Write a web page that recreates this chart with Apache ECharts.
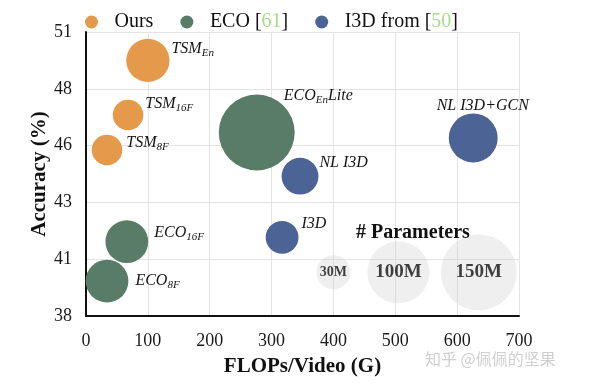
<!DOCTYPE html>
<html>
<head>
<meta charset="utf-8">
<script src="https://cdn.jsdelivr.net/npm/echarts@6/dist/echarts.min.js"></script>
<style>
html,body{margin:0;padding:0;background:#fff;}
#chart{width:600px;height:385px;}
</style>
</head>
<body>
<div id="chart"></div>
<script>
// ---- data (FLOPs G, accuracy %, params M) ----
var oursNames = [['TSM', '8F', ''], ['TSM', '16F', ''], ['TSM', 'En', '']];
var oursFlops = [34, 68, 100];
var oursAcc = [45.6, 47.2, 49.7];
var oursParams = [24.3, 24.3, 48.6];

var ecoNames = [['ECO', '8F', ''], ['ECO', '16F', ''], ['ECO', 'En', 'Lite']];
var ecoFlops = [34, 66, 276];
var ecoAcc = [39.6, 41.4, 46.4];
var ecoParams = [47.5, 47.5, 150];

var i3dNames = [['I3D', '', ''], ['NL I3D', '', ''], ['NL I3D+GCN', '', '']];
var i3dFlops = [317, 346, 626];
var i3dAcc = [41.6, 44.4, 46.15];
var i3dParams = [28, 35.3, 62.2];

var sizeLegendLabels = ['30M', '100M', '150M'];
var sizeLegendFlops = [400, 505, 635];
var sizeLegendAcc = [40, 40, 40];
var sizeLegendParams = [30, 100, 150];

var xTicks = [0, 100, 200, 300, 400, 500, 600, 700];
var yMin = 38, yMax = 51;

var legendNames = ['Ours', 'ECO', 'I3D'];
var legendRefs = ['', '61', '50'];
var legendPrefix = ['Ours', 'ECO [', 'I3D from ['];

// ---- styles ----
var SERIF = 'Liberation Serif';
var colors = { Ours: '#E5994A', ECO: '#587C68', I3D: '#4C6396' };
// label offsets (style only)
var labelOffsets = {
  Ours: [[4, -7], [2, -11], [2, -12]],
  ECO: [[7, 0], [6, -9], [-11, -37]],
  I3D: [[3, -14], [1, -13], [-61, -32]]
};

function sizeOf(p) { return 6.2 * Math.sqrt(p); }

function buildData(flops, acc, params, names) {
  return flops.map(function (f, i) {
    return { value: [f, acc[i], params[i]], nm: names[i] };
  });
}

var richLabel = {
  m: { fontFamily: SERIF, fontStyle: 'italic', fontSize: 16, color: '#151515', lineHeight: 20 },
  s: { fontFamily: SERIF, fontStyle: 'italic', fontSize: 11, color: '#151515', lineHeight: 12, verticalAlign: 'bottom' }
};

function makeSeries(name, flops, acc, params, names) {
  var data = buildData(flops, acc, params, names);
  data.forEach(function (d, i) {
    d.label = { offset: labelOffsets[name][i] };
  });
  return {
    name: name,
    type: 'scatter',
    data: data,
    symbolSize: function (v) { return sizeOf(v[2]); },
    itemStyle: { color: colors[name], opacity: 1 },
    emphasis: { disabled: true },
    label: {
      show: true,
      position: 'right',
      distance: 0,
      formatter: function (p) {
        var n = p.data.nm;
        var s = '{m|' + n[0] + '}';
        if (n[1]) s += '{s|' + n[1] + '}';
        if (n[2]) s += '{m|' + n[2] + '}';
        return s;
      },
      rich: richLabel
    },
    z: 3
  };
}

var sizeData = sizeLegendFlops.map(function (f, i) {
  return {
    value: [f, sizeLegendAcc[i], sizeLegendParams[i]],
    nm: sizeLegendLabels[i],
    label: { fontSize: i === 0 ? 14 : 19 }
  };
});

var chart = echarts.init(document.getElementById('chart'), null, { renderer: 'canvas' });

var option = {
  animation: false,
  backgroundColor: '#fff',
  grid: { left: 86, right: 81, top: 32, bottom: 69, containLabel: false },
  legend: {
    data: legendNames,
    left: 80,
    top: 7,
    icon: 'circle',
    itemWidth: 26,
    itemHeight: 13,
    itemGap: 27,
    selectedMode: false,
    formatter: function (name) {
      var i = legendNames.indexOf(name);
      var s = '{f|' + legendPrefix[i] + '}';
      if (legendRefs[i]) s += '{g|' + legendRefs[i] + '}{t|]}';
      return s;
    },
    textStyle: {
      fontFamily: SERIF, fontSize: 20, color: '#111',
      rich: {
        f: { fontFamily: SERIF, fontSize: 20, color: '#111', padding: [0, 0, 0, 5] },
        t: { fontFamily: SERIF, fontSize: 20, color: '#111' },
        g: { fontFamily: SERIF, fontSize: 20, color: '#A6DC86' }
      }
    }
  },
  xAxis: {
    type: 'value',
    min: xTicks[0],
    max: xTicks[xTicks.length - 1],
    interval: 100,
    name: 'FLOPs/Video (G)',
    nameLocation: 'middle',
    nameGap: 40,
    nameTextStyle: { fontFamily: SERIF, fontSize: 21, fontWeight: 'bold', color: '#111' },
    axisLine: { show: true, onZero: false, lineStyle: { color: '#111', width: 2 } },
    axisTick: { show: false },
    axisLabel: { fontFamily: SERIF, fontSize: 18, color: '#1a1a1a', margin: 16 },
    splitLine: { show: true, lineStyle: { color: '#E4E4E4', width: 1 } }
  },
  yAxis: {
    type: 'value',
    min: yMin,
    max: yMax,
    interval: (yMax - yMin) / 5,
    name: 'Accuracy (%)',
    nameLocation: 'middle',
    nameGap: 36,
    nameMoveOverlap: false,
    nameTextStyle: { fontFamily: SERIF, fontSize: 21, fontWeight: 'bold', color: '#111' },
    axisLine: { show: true, onZero: false, lineStyle: { color: '#111', width: 2 } },
    axisTick: { show: false },
    axisLabel: {
      fontFamily: SERIF, fontSize: 18, color: '#1a1a1a', margin: 14,
      formatter: function (v) { return Math.round(v); }
    },
    splitLine: { show: true, lineStyle: { color: '#E4E4E4', width: 1 } }
  },
  series: [
    {
      name: 'params',
      type: 'scatter',
      data: sizeData,
      symbolSize: function (v) { return sizeOf(v[2]); },
      itemStyle: { color: 'rgba(205,205,205,0.4)' },
      emphasis: { disabled: true },
      label: {
        show: true,
        position: 'inside',
        fontFamily: SERIF,
        fontWeight: 'bold',
        color: '#111',
        formatter: function (p) { return p.data.nm; }
      },
      z: 1
    },
    makeSeries('Ours', oursFlops, oursAcc, oursParams, oursNames),
    makeSeries('ECO', ecoFlops, ecoAcc, ecoParams, ecoNames),
    makeSeries('I3D', i3dFlops, i3dAcc, i3dParams, i3dNames)
  ],
  graphic: [
    {
      type: 'text',
      left: 356,
      top: 223,
      style: { text: '# Parameters', fontFamily: SERIF, fontSize: 20, fontWeight: 'bold', fill: '#111' },
      z: 10
    },
    {
      type: 'text',
      left: 425,
      top: 351,
      style: { text: '知乎 @佩佩的坚果', fontFamily: 'Noto Sans CJK SC', fontSize: 16, fill: '#CFCFCF' },
      z: 10
    }
  ]
};

chart.setOption(option);
</script>
</body>
</html>
